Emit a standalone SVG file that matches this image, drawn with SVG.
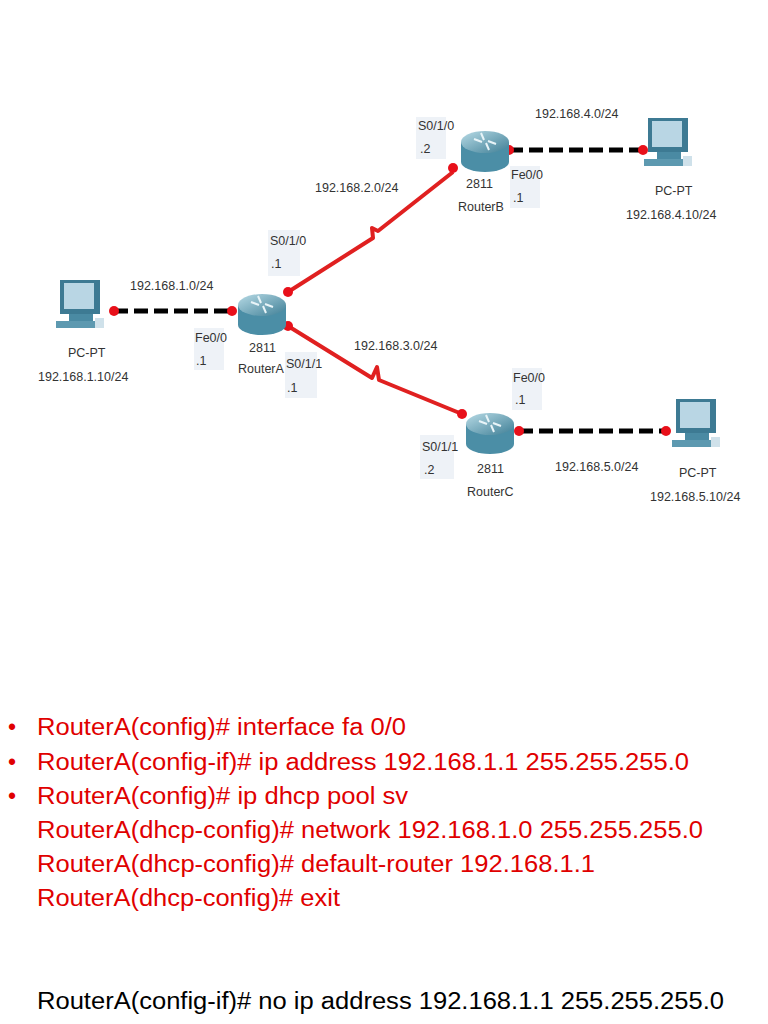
<svg xmlns="http://www.w3.org/2000/svg" width="768" height="1024" viewBox="0 0 768 1024">
<defs>
<style>
.l{font-family:"Liberation Sans",Arial,sans-serif;font-size:12.5px;fill:#333;}
.cmd{font-family:"Liberation Sans",Arial,sans-serif;font-size:23px;fill:#e00000;}
.blk{font-family:"Liberation Sans",Arial,sans-serif;font-size:23px;fill:#000;}
.eth{stroke:#000;stroke-width:5;stroke-dasharray:14,6;fill:none;}
.ser{stroke:#e02020;stroke-width:4;fill:none;stroke-linejoin:round;}
.dot{fill:#e8101a;}
.lb{fill:#eef2f7;}
</style>
<linearGradient id="rg" x1="0" y1="0" x2="1" y2="1"><stop offset="0" stop-color="#b8dbe6"/><stop offset="1" stop-color="#3f7f96"/></linearGradient>
<g id="router">
<path d="M-24,-8 v20 a24,10 0 0 0 48,0 v-20 z" fill="#4b8ea6"/>
<ellipse cx="0" cy="-8" rx="24" ry="11" fill="url(#rg)"/>
<path d="M-11,-11 l8,3 M11,-6 l-8,-3 M-4,-17 l3,7 M4,0 l-3,-7" stroke="#e8f4f8" stroke-width="2"/>
</g>
<g id="pc">
<rect x="-20" y="-30" width="40" height="34" fill="#3d7a93"/>
<rect x="-16" y="-27" width="30" height="26" fill="#b9d6e4"/>
<rect x="-11" y="4" width="24" height="7" fill="#4a8aa3"/>
<rect x="-24" y="11" width="44" height="7" fill="#5d99b0"/>
<rect x="15" y="8" width="9" height="10" fill="#cfe1ea"/>
</g>
</defs>
<rect width="768" height="1024" fill="#fff"/>
<g id="connectors">
<line class="eth" x1="114" y1="311" x2="232" y2="311"/>
<line class="eth" x1="509" y1="150" x2="643" y2="150"/>
<line class="eth" x1="519" y1="431" x2="666" y2="431"/>
<polyline class="ser" points="288,292 373,238 372,228 378,231 453,172"/>
<polyline class="ser" points="288,326 372,378 377,367 379,380 462,414"/>
<circle class="dot" cx="114" cy="311" r="5"/><circle class="dot" cx="232" cy="311" r="5"/>
<circle class="dot" cx="509" cy="150" r="5"/><circle class="dot" cx="643" cy="150" r="5"/>
<circle class="dot" cx="519" cy="431" r="5"/><circle class="dot" cx="666" cy="431" r="5"/>
<circle class="dot" cx="288" cy="292" r="5"/><circle class="dot" cx="288" cy="326" r="5"/>
<circle class="dot" cx="453" cy="168" r="5"/><circle class="dot" cx="462" cy="414" r="5"/>
<text class="l" x="130" y="290">192.168.1.0/24</text>
<text class="l" x="315" y="192">192.168.2.0/24</text>
<text class="l" x="354" y="350">192.168.3.0/24</text>
<text class="l" x="535" y="118">192.168.4.0/24</text>
<text class="l" x="555" y="471">192.168.5.0/24</text>
</g>
<g id="pcA"><use href="#pc" x="80" y="310"/><text class="l" x="68" y="357">PC-PT</text><text class="l" x="38" y="381">192.168.1.10/24</text></g>
<g id="routerA"><use href="#router" x="262" y="313"/><text class="l" x="249" y="352">2811</text><text class="l" x="238" y="373">RouterA</text>
<rect class="lb" x="194" y="328" width="30" height="42"/><text class="l" x="195" y="342">Fe0/0</text><text class="l" x="196" y="365">.1</text>
<rect class="lb" x="268" y="230" width="32" height="46"/><text class="l" x="270" y="245">S0/1/0</text><text class="l" x="271" y="268">.1</text>
<rect class="lb" x="285" y="352" width="32" height="46"/><text class="l" x="286" y="368">S0/1/1</text><text class="l" x="287" y="392">.1</text></g>
<g id="routerB"><use href="#router" x="485" y="150"/><text class="l" x="466" y="188">2811</text><text class="l" x="458" y="211">RouterB</text>
<rect class="lb" x="416" y="117" width="30" height="42"/><text class="l" x="418" y="130">S0/1/0</text><text class="l" x="420" y="153">.2</text>
<rect class="lb" x="510" y="166" width="30" height="42"/><text class="l" x="511" y="179">Fe0/0</text><text class="l" x="513" y="202">.1</text></g>
<g id="routerC"><use href="#router" x="490" y="432"/><text class="l" x="477" y="473">2811</text><text class="l" x="467" y="496">RouterC</text>
<rect class="lb" x="420" y="435" width="34" height="44"/><text class="l" x="422" y="451">S0/1/1</text><text class="l" x="424" y="474">.2</text>
<rect class="lb" x="512" y="368" width="30" height="42"/><text class="l" x="513" y="382">Fe0/0</text><text class="l" x="515" y="404">.1</text></g>
<g id="pcB"><use href="#pc" x="668" y="148"/><text class="l" x="655" y="195">PC-PT</text><text class="l" x="626" y="219">192.168.4.10/24</text></g>
<g id="pcC"><use href="#pc" x="696" y="429"/><text class="l" x="679" y="477">PC-PT</text><text class="l" x="650" y="501">192.168.5.10/24</text></g>
<g id="commands">
<text class="cmd" x="8" y="735">•</text><text class="cmd" x="37" y="735" textLength="369" lengthAdjust="spacingAndGlyphs">RouterA(config)# interface fa 0/0</text>
<text class="cmd" x="8" y="770">•</text><text class="cmd" x="37" y="770" textLength="652" lengthAdjust="spacingAndGlyphs">RouterA(config-if)# ip address 192.168.1.1 255.255.255.0</text>
<text class="cmd" x="8" y="804">•</text><text class="cmd" x="37" y="804" textLength="371" lengthAdjust="spacingAndGlyphs">RouterA(config)# ip dhcp pool sv</text>
<text class="cmd" x="37" y="838" textLength="666" lengthAdjust="spacingAndGlyphs">RouterA(dhcp-config)# network 192.168.1.0 255.255.255.0</text>
<text class="cmd" x="37" y="872" textLength="558" lengthAdjust="spacingAndGlyphs">RouterA(dhcp-config)# default-router 192.168.1.1</text>
<text class="cmd" x="37" y="906" textLength="303" lengthAdjust="spacingAndGlyphs">RouterA(dhcp-config)# exit</text>
<text class="blk" x="37" y="1009" textLength="687" lengthAdjust="spacingAndGlyphs">RouterA(config-if)# no ip address 192.168.1.1 255.255.255.0</text>
</g>
</svg>
